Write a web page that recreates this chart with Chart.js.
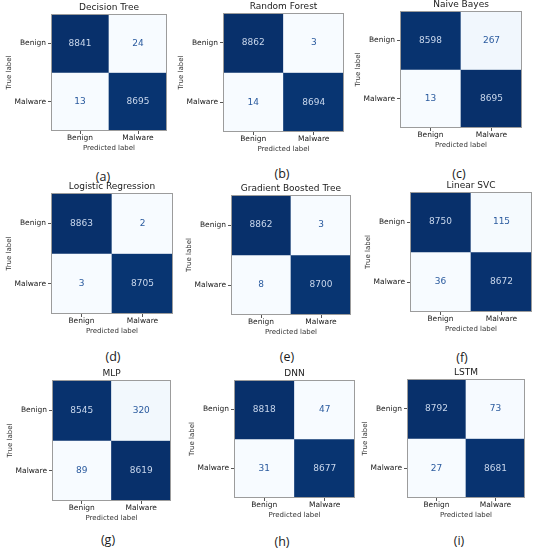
<!DOCTYPE html>
<html lang="en">
<head>
    <meta charset="UTF-8" />
    <title>Confusion matrices of the nine classifiers</title>
    <script src="https://cdn.jsdelivr.net/npm/chart.js"></script>
    <style>
        body {
            margin: 0;
            background: #ffffff;
            width: 538px;
            height: 550px;
            position: relative;
            overflow: hidden;
        }
        .panel { position: absolute; }
        .tag {
            position: absolute;
            font-family: 'Open Sans', sans-serif;
            font-size: 12.5px;
            color: #1a1a1a;
            transform: translate(-50%, -50%);
            white-space: nowrap;
        }
    </style>
</head>
<body>

<div id="figure"></div>

<script>
    // ---- data ----
    const classLabels = ['Benign', 'Malware'];
    const modelNames = ['Decision Tree', 'Random Forest', 'Naive Bayes',
                        'Logistic Regression', 'Gradient Boosted Tree', 'Linear SVC',
                        'MLP', 'DNN', 'LSTM'];
    const panelTags = ['(a)', '(b)', '(c)', '(d)', '(e)', '(f)', '(g)', '(h)', '(i)'];

    // rows = true label, columns = predicted label
    const benignAsBenign   = [8841, 8862, 8598, 8863, 8862, 8750, 8545, 8818, 8792];
    const benignAsMalware  = [24, 3, 267, 2, 3, 115, 320, 47, 73];
    const malwareAsBenign  = [13, 14, 13, 3, 8, 36, 89, 31, 27];
    const malwareAsMalware = [8695, 8694, 8695, 8705, 8700, 8672, 8619, 8677, 8681];

    // ---- layout: where each matrix box sits in the figure ----
    const boxes = [
        { x: 51,  y: 14,  w: 116, h: 117 },
        { x: 223, y: 13,  w: 121, h: 119 },
        { x: 400, y: 11,  w: 122, h: 117 },
        { x: 51,  y: 193, w: 122, h: 121 },
        { x: 231, y: 195, w: 120, h: 120 },
        { x: 410, y: 192, w: 122, h: 120 },
        { x: 52,  y: 380, w: 119, h: 121 },
        { x: 234, y: 380, w: 121, h: 118 },
        { x: 407, y: 379, w: 118, h: 119 }
    ];
    const tagCenters = [[103, 176], [282, 173], [459, 173],
                        [113, 356], [287, 356], [462, 357],
                        [108, 539], [282, 541], [459, 540]];

    const AXIS_W = 48, AXIS_H = 21, TITLE_H = 11, RIGHT_PAD = 3;
    const FONT = 'DejaVu Sans';

    // matplotlib "Blues"
    const blues = ['#f7fbff', '#deebf7', '#c6dbef', '#9ecae1', '#6baed6',
                   '#4292c6', '#2171b5', '#08519c', '#08306b'];

    function hexToRgb(h) {
        return [1, 3, 5].map(i => parseInt(h.slice(i, i + 2), 16));
    }

    function bluesColor(t) {
        t = Math.min(1, Math.max(0, t));
        const pos = t * (blues.length - 1);
        const i = Math.min(Math.floor(pos), blues.length - 2);
        const f = pos - i;
        const a = hexToRgb(blues[i]), b = hexToRgb(blues[i + 1]);
        const c = a.map((v, k) => Math.round(v + (b[k] - v) * f));
        return `rgb(${c[0]}, ${c[1]}, ${c[2]})`;
    }

    // writes the counts into the cells and frames the matrix
    const cellText = {
        id: 'cellText',
        afterDatasetsDraw(chart, args, opts) {
            const ctx = chart.ctx;
            ctx.save();
            ctx.font = `9px '${FONT}'`;
            ctx.textAlign = 'center';
            ctx.textBaseline = 'middle';
            chart.data.datasets.forEach((ds, di) => {
                chart.getDatasetMeta(di).data.forEach((bar, j) => {
                    const v = ds.counts[j];
                    const t = (v - opts.lo) / (opts.hi - opts.lo);
                    ctx.fillStyle = t > 0.5 ? '#c9d7ec' : '#2a5a9e';
                    ctx.fillText(String(v), bar.x, (bar.y + bar.base) / 2);
                });
            });
            const a = chart.chartArea;
            ctx.strokeStyle = '#9c9c9c';
            ctx.lineWidth = 1;
            ctx.strokeRect(Math.round(a.left) + 0.5, Math.round(a.top) + 0.5,
                           Math.round(a.width) - 1, Math.round(a.height) - 1);
            ctx.restore();
        }
    };

    const figure = document.getElementById('figure');

    modelNames.forEach((name, p) => {
        const box = boxes[p];
        const rows = [
            [benignAsBenign[p], benignAsMalware[p]],
            [malwareAsBenign[p], malwareAsMalware[p]]
        ];
        const all = rows.flat();
        const lo = Math.min(...all), hi = Math.max(...all);

        const wrap = document.createElement('div');
        wrap.className = 'panel';
        wrap.style.left = (box.x - AXIS_W) + 'px';
        wrap.style.top = (box.y - TITLE_H) + 'px';
        wrap.style.width = (AXIS_W + box.w + RIGHT_PAD) + 'px';
        wrap.style.height = (TITLE_H + box.h + AXIS_H) + 'px';
        const canvas = document.createElement('canvas');
        wrap.appendChild(canvas);
        figure.appendChild(wrap);

        const tag = document.createElement('div');
        tag.className = 'tag';
        tag.textContent = panelTags[p];
        tag.style.left = tagCenters[p][0] + 'px';
        tag.style.top = tagCenters[p][1] + 'px';
        figure.appendChild(tag);

        const tickFont = { family: FONT, size: 7.5 };
        const axisTitleFont = { family: FONT, size: 7 };
        const gridStyle = {
            display: true, drawOnChartArea: false, drawTicks: true,
            tickLength: 3, color: '#555', offset: false
        };

        new Chart(canvas.getContext('2d'), {
            type: 'bar',
            data: {
                labels: classLabels,
                datasets: rows.map((row, r) => ({
                    label: classLabels[r],
                    data: row.map(() => 1),
                    counts: row,
                    backgroundColor: row.map(v => bluesColor((v - lo) / (hi - lo))),
                    borderWidth: 0,
                    barPercentage: 1,
                    categoryPercentage: 1
                }))
            },
            options: {
                responsive: true,
                maintainAspectRatio: false,
                animation: false,
                events: [],
                layout: { padding: { left: 0, top: 0, bottom: 0, right: RIGHT_PAD } },
                plugins: {
                    legend: { display: false },
                    tooltip: { enabled: false },
                    title: {
                        display: true,
                        text: name,
                        fullSize: false,
                        color: '#1a1a1a',
                        font: { family: FONT, size: 9, weight: 'normal', lineHeight: '10px' },
                        padding: { top: 0, bottom: 1 }
                    },
                    cellText: { lo, hi }
                },
                scales: {
                    x: {
                        stacked: true,
                        grid: gridStyle,
                        border: { display: false },
                        ticks: { font: tickFont, color: '#1a1a1a', padding: 0, maxRotation: 0 },
                        title: {
                            display: true, text: 'Predicted label', color: '#333',
                            font: axisTitleFont, padding: 0
                        },
                        afterFit(s) { s.height = AXIS_H; }
                    },
                    y: {
                        type: 'linear',
                        stacked: true,
                        reverse: true,
                        min: 0,
                        max: 2,
                        afterBuildTicks(s) { s.ticks = [{ value: 0.5 }, { value: 1.5 }]; },
                        grid: gridStyle,
                        border: { display: false },
                        ticks: {
                            font: tickFont, color: '#1a1a1a', padding: 2,
                            callback: (v, i) => classLabels[i]
                        },
                        title: {
                            display: true, text: 'True label', color: '#333',
                            font: axisTitleFont, padding: { top: 2, bottom: 0 }
                        },
                        afterFit(s) { s.width = AXIS_W; }
                    }
                }
            },
            plugins: [cellText]
        });
    });
</script>

</body>
</html>
